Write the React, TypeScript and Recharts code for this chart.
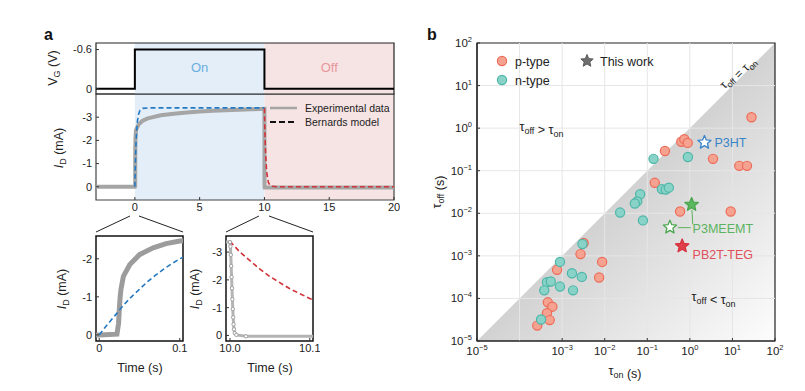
import React from 'react';
import {
  LineChart, Line, XAxis, YAxis, ReferenceArea, ReferenceDot, ReferenceLine,
  ComposedChart, Scatter, Area,
} from 'recharts';

const FONT = '"Liberation Sans", Arial, Helvetica, sans-serif';

// ---- panel a data: [time (s), value] ----
const gatePulse = [[-3, 0], [0, 0], [0, -0.6], [10, -0.6], [10, 0], [20, 0]];

const experimental = [
  [-3, 0], [0, 0], [0.022, -0.02], [0.024, -0.3], [0.025, -0.7], [0.026, -1.0], [0.027, -1.2],
  [0.03, -1.54], [0.038, -1.85], [0.05, -2.11], [0.067, -2.29], [0.083, -2.4], [0.1, -2.47],
  [0.3, -2.7], [0.6, -2.85], [1, -2.95], [2, -3.08], [3, -3.15], [4, -3.2], [5, -3.25],
  [6, -3.28], [7, -3.3], [8, -3.32], [9, -3.34], [10, -3.36],
  [10.0005, -3.2], [10.001, -2.9], [10.0015, -2.5], [10.002, -2.1], [10.0025, -1.7],
  [10.003, -1.3], [10.0035, -0.95], [10.004, -0.65], [10.0045, -0.4], [10.005, -0.22],
  [10.006, -0.08], [10.008, -0.02], [10.02, 0.03], [20, 0.03],
];

const modelOn = [
  [0, 0], [0.01, -0.27], [0.02, -0.52], [0.03, -0.78], [0.04, -1.0], [0.05, -1.2], [0.06, -1.4],
  [0.07, -1.57], [0.08, -1.73], [0.09, -1.87], [0.1, -2.0], [0.15, -2.5], [0.2, -2.85],
  [0.3, -3.15], [0.4, -3.3], [0.6, -3.38], [1, -3.4], [10, -3.4],
];

const modelOff = [
  [10, -3.39], [10.0125, -3.0], [10.025, -2.69], [10.0375, -2.39], [10.05, -2.12], [10.075, -1.68],
  [10.1, -1.33], [10.15, -0.83], [10.2, -0.52], [10.3, -0.2], [10.4, -0.08], [10.6, -0.02],
  [11, 0], [20, 0],
];

const mainTicks = [0, 5, 10, 15, 20];

// ---- panel b data: [tau_on (s), tau_off (s)] ----
const pType = [
  [28, 1.8], [0.63, 0.48], [0.74, 0.55], [0.89, 0.45], [0.26, 0.29], [3.5, 0.19], [14.5, 0.13],
  [22, 0.13], [0.15, 0.052], [0.59, 0.011], [9.1, 0.011], [0.0032, 0.002], [0.0027, 0.0011],
  [0.0087, 0.00072], [0.00076, 0.00047], [0.0074, 0.00031], [0.00046, 0.000081],
  [0.00059, 0.000064], [0.00044, 0.000045], [0.00051, 0.000031], [0.00026, 0.000023],
];
const nType = [
  [0.14, 0.19], [0.9, 0.21], [0.22, 0.037], [0.27, 0.036], [0.32, 0.04], [0.068, 0.028],
  [0.058, 0.019], [0.051, 0.017], [0.023, 0.0104], [0.079, 0.0068], [0.003, 0.0019],
  [0.00089, 0.00072], [0.0017, 0.00039], [0.0029, 0.00032], [0.00044, 0.00024],
  [0.00054, 0.00025], [0.00089, 0.00019], [0.00038, 0.000155], [0.0018, 0.000155],
  [0.00032, 0.000032],
];
const p3ht = [[2.2, 0.46]];
const p3meemtFilled = [[1.1, 0.016]];
const p3meemtOpen = [[0.34, 0.0047]];
const pb2tteg = [[0.66, 0.0017]];
const decades = [1e-5, 1e-4, 1e-3, 1e-2, 1e-1, 1, 10, 100];
const diagonal = [[1e-5, 1e-5], [100, 100]];

const toT = (a: number[][]) => a.map(([t, v]) => ({ t, v }));
const toXY = (a: number[][]) => a.map(([x, y]) => ({ x, y }));

const tickStyle = { fontSize: 11, fill: '#222', fontFamily: FONT };
const BLUE = '#2379c2';
const RED = '#d0323a';
const GREY = '#a5a5a5';

const starPoints = (cx: number, cy: number, R: number) => {
  const pts: string[] = [];
  for (let i = 0; i < 10; i++) {
    const r = i % 2 === 0 ? R : R * 0.45;
    const a = -Math.PI / 2 + (i * Math.PI) / 5;
    pts.push(`${cx + r * Math.cos(a)},${cy + r * Math.sin(a)}`);
  }
  return pts.join(' ');
};

const makeStar = (fill: string, stroke: string) => (p: any) => (
  <polygon points={starPoints(p.cx, p.cy, 7)} fill={fill} stroke={stroke} strokeWidth={1.3} strokeLinejoin="round" />
);

const makeCircle = (fill: string, stroke: string) => (p: any) => (
  <circle cx={p.cx} cy={p.cy} r={4.6} fill={fill} stroke={stroke} strokeWidth={1.2} />
);

const PowTickX = (p: any) => {
  const e = Math.round(Math.log10(p.payload.value));
  const s = e < 0 ? '\u2212' + -e : String(e);
  return (
    <text x={p.x} y={p.y + 11} textAnchor="middle" fontSize={11.5} fill="#222" fontFamily={FONT}>
      <tspan>10</tspan>
      <tspan dy={-5} fontSize={7.5}>{s}</tspan>
    </text>
  );
};

const PowTickY = (p: any) => {
  const e = Math.round(Math.log10(p.payload.value));
  const s = e < 0 ? '\u2212' + -e : String(e);
  return (
    <text x={p.x - 2} y={p.y + 4} textAnchor="end" fontSize={11.5} fill="#222" fontFamily={FONT}>
      <tspan>10</tspan>
      <tspan dy={-5} fontSize={7.5}>{s}</tspan>
    </text>
  );
};

const Tau = ({ sub }: { sub: string }) => (
  <>
    <tspan>τ</tspan>
    <tspan fontSize="0.72em" dy={3}>{sub}</tspan>
    <tspan dy={-3}></tspan>
  </>
);

// inward tick marks, labels outside
const xTickProps = { tickSize: -3, tickMargin: 6, tickLine: { stroke: '#333' }, tick: tickStyle };
const yTickProps = { tickSize: -3, tickMargin: 7, tickLine: { stroke: '#333' }, tick: tickStyle };

function VgPanel() {
  return (
    <LineChart width={400} height={96} margin={{ top: 43, right: 6, bottom: 2, left: 0 }}>
      <XAxis type="number" dataKey="t" domain={[-3, 20]} hide allowDataOverflow />
      <YAxis type="number" domain={[-0.7, 0.08]} reversed ticks={[-0.6, 0]} width={96}
        {...yTickProps} axisLine={false} allowDataOverflow />
      <ReferenceArea x1={0} x2={10} y1={-0.7} y2={0.08} fill="#e3eef8" fillOpacity={1} stroke="none" />
      <ReferenceArea x1={10} x2={20} y1={-0.7} y2={0.08} fill="#f6e4e4" fillOpacity={1} stroke="none" />
      <ReferenceDot x={5} y={-0.33} r={0} shape={(p: any) => (
        <text x={p.cx} y={p.cy + 5} textAnchor="middle" fontSize={13} fill="#6aaee0" fontFamily={FONT}>On</text>
      )} />
      <ReferenceDot x={15} y={-0.33} r={0} shape={(p: any) => (
        <text x={p.cx} y={p.cy + 5} textAnchor="middle" fontSize={13} fill="#e8959b" fontFamily={FONT}>Off</text>
      )} />
      <Line data={toT(gatePulse)} dataKey="v" stroke="#000" strokeWidth={2} dot={false} isAnimationActive={false} />
      <ReferenceArea x1={-3} x2={20} y1={-0.7} y2={0.08} fill="none" stroke="#222" strokeWidth={1.2} />
    </LineChart>
  );
}

function IdPanel() {
  return (
    <LineChart width={400} height={225} margin={{ top: 94, right: 6, bottom: 0, left: 0 }}>
      <XAxis type="number" dataKey="t" domain={[-3, 20]} ticks={mainTicks} height={25}
        {...xTickProps} axisLine={false} allowDataOverflow />
      <YAxis type="number" domain={[-4, 0.57]} reversed ticks={[-3, -2, -1, 0]} width={96}
        {...yTickProps} axisLine={false} allowDataOverflow />
      <ReferenceArea x1={0} x2={10} y1={-4} y2={0.57} fill="#e3eef8" fillOpacity={1} stroke="none" />
      <ReferenceArea x1={10} x2={20} y1={-4} y2={0.57} fill="#f6e4e4" fillOpacity={1} stroke="none" />
      <Line data={toT(experimental)} dataKey="v" stroke={GREY} strokeWidth={4} dot={false} isAnimationActive={false} />
      <Line data={toT(modelOn)} dataKey="v" stroke={BLUE} strokeWidth={1.6} strokeDasharray="5 3" dot={false} isAnimationActive={false} />
      <Line data={toT(modelOff)} dataKey="v" stroke={RED} strokeWidth={1.6} strokeDasharray="5 3" dot={false} isAnimationActive={false} />
      <ReferenceArea x1={-3} x2={20} y1={-4} y2={0.57} fill="none" stroke="#444" strokeWidth={1.2} />
    </LineChart>
  );
}

function InsetOn() {
  return (
    <LineChart width={190} height={191} margin={{ top: 36, right: 7, bottom: 25, left: 0 }}>
      <XAxis type="number" dataKey="t" domain={[-0.004, 0.104]} ticks={[0, 0.1]} height={25}
        {...xTickProps} axisLine={false} allowDataOverflow />
      <YAxis type="number" domain={[-2.6, 0.16]} reversed ticks={[-2, -1, 0]} width={96}
        {...yTickProps} axisLine={false} allowDataOverflow />
      <Line data={toT(experimental)} dataKey="v" stroke="#9c9c9c" strokeWidth={5} dot={false} isAnimationActive={false} />
      <Line data={toT(modelOn)} dataKey="v" stroke={BLUE} strokeWidth={1.6} strokeDasharray="5 3" dot={false} isAnimationActive={false} />
      <ReferenceArea x1={-0.004} x2={0.104} y1={-2.6} y2={0.16} fill="none" stroke="#111" strokeWidth={1.5} />
    </LineChart>
  );
}

function InsetOff() {
  return (
    <LineChart width={190} height={191} margin={{ top: 36, right: 7, bottom: 25, left: 0 }}>
      <XAxis type="number" dataKey="t" domain={[9.995, 10.104]} ticks={[10, 10.1]} height={25}
        tickFormatter={(v: number) => v.toFixed(1)}
        {...xTickProps} axisLine={false} allowDataOverflow />
      <YAxis type="number" domain={[-3.58, 0.2]} reversed ticks={[-3, -2, -1, 0]} width={96}
        {...yTickProps} axisLine={false} allowDataOverflow />
      <Line data={toT(experimental)} dataKey="v" stroke="#b4b4b4" strokeWidth={3}
        dot={{ r: 1.7, fill: '#fff', stroke: '#a0a0a0', strokeWidth: 1 }} isAnimationActive={false} />
      <Line data={toT(modelOff)} dataKey="v" stroke={RED} strokeWidth={1.6} strokeDasharray="5 3" dot={false} isAnimationActive={false} />
      <ReferenceArea x1={9.995} x2={10.104} y1={-3.58} y2={0.2} fill="none" stroke="#111" strokeWidth={1.5} />
    </LineChart>
  );
}

function TauPanel() {
  const txt = (content: React.ReactNode, dx = 0, dy = 0, color = '#222', size = 12.5, rotate = 0) => (p: any) => (
    <text x={p.cx + dx} y={p.cy + dy} fontSize={size} fill={color} fontFamily={FONT}
      transform={rotate ? `rotate(${rotate},${p.cx},${p.cy})` : undefined}
      textAnchor={rotate ? 'middle' : 'start'}>
      {content}
    </text>
  );
  return (
    <ComposedChart width={385} height={391} margin={{ top: 43, right: 30, bottom: 20, left: 7 }}>
      <defs>
        <linearGradient id="lowerTri" x1="0" y1="0" x2="1" y2="1">
          <stop offset="0.5" stopColor="#d2d2d2" />
          <stop offset="1" stopColor="#fdfdfd" />
        </linearGradient>
      </defs>
      <XAxis type="number" dataKey="x" scale="log" domain={[1e-5, 100]} ticks={decades} height={30}
        tickSize={-3} tickMargin={6} tickLine={{ stroke: '#333' }} axisLine={{ stroke: '#222', strokeWidth: 1.2 }}
        tick={<PowTickX />} allowDataOverflow />
      <YAxis type="number" dataKey="y" scale="log" domain={[1e-5, 100]} ticks={decades} width={50}
        tickSize={-3} tickMargin={6} tickLine={{ stroke: '#333' }} axisLine={{ stroke: '#222', strokeWidth: 1.2 }}
        tick={<PowTickY />} allowDataOverflow />
      <Area data={toXY(diagonal)} dataKey="y" type="linear" baseValue={1e-5} fill="url(#lowerTri)"
        fillOpacity={1} stroke="none" isAnimationActive={false} />
      {decades.slice(1, -1).map((d) => (
        <ReferenceLine key={'vx' + d} x={d} stroke="#e6e6e6" strokeWidth={1} />
      ))}
      {decades.slice(1, -1).map((d) => (
        <ReferenceLine key={'hy' + d} y={d} stroke="#e6e6e6" strokeWidth={1} />
      ))}
      <ReferenceLine segment={[{ x: 0.52, y: 0.0046 }, { x: 1.05, y: 0.0046 }]} stroke="#5ab35e" strokeWidth={1} />
      <ReferenceLine segment={[{ x: 1.12, y: 0.012 }, { x: 1.17, y: 0.0055 }]} stroke="#5ab35e" strokeWidth={1} />
      <Scatter data={toXY(pType)} dataKey="y" shape={makeCircle('#f6a291', '#ec6c58')} isAnimationActive={false} />
      <Scatter data={toXY(nType)} dataKey="y" shape={makeCircle('#88d2c7', '#4db6a8')} isAnimationActive={false} />
      <Scatter data={toXY(p3ht)} dataKey="y" shape={makeStar('#ffffff', '#3a84c8')} isAnimationActive={false} />
      <Scatter data={toXY(p3meemtFilled)} dataKey="y" shape={makeStar('#5cb85f', '#4aa64e')} isAnimationActive={false} />
      <Scatter data={toXY(p3meemtOpen)} dataKey="y" shape={makeStar('#ffffff', '#4aa64e')} isAnimationActive={false} />
      <Scatter data={toXY(pb2tteg)} dataKey="y" shape={makeStar('#e0404a', '#d53540')} isAnimationActive={false} />
      <ReferenceDot x={2.2} y={0.46} r={0} shape={txt('P3HT', 10, 5, '#3a84c8', 12.5)} />
      <ReferenceDot x={1.1} y={0.0045} r={0} shape={txt('P3MEEMT', 1, 5, '#5ab35e', 12.5)} />
      <ReferenceDot x={1.1} y={0.0011} r={0} shape={txt('PB2T-TEG', 1, 5, '#e0505a', 12.5)} />
      <ReferenceDot x={1e-4} y={1} r={0} shape={txt(<><Tau sub="off" /> &gt; <Tau sub="on" /></>, 0, 3)} />
      <ReferenceDot x={1.1} y={1e-4} r={0} shape={txt(<><Tau sub="off" /> &lt; <Tau sub="on" /></>, 0, 3)} />
      <ReferenceDot x={12.6} y={21} r={0} shape={txt(<><Tau sub="off" /> = <Tau sub="on" /></>, 0, 4, '#222', 12, -45)} />
      <ReferenceArea x1={1e-5} x2={100} y1={1e-5} y2={100} fill="none" stroke="#222" strokeWidth={1.2} />
    </ComposedChart>
  );
}

export default function App() {
  const abs = (left: number, top: number): React.CSSProperties => ({ position: 'absolute', left, top });
  return (
    <div style={{ position: 'absolute', left: 0, top: 0, width: 805, height: 391, background: '#fff', overflow: 'hidden', fontFamily: FONT }}>
      <div style={abs(0, 0)}><IdPanel /></div>
      <div style={abs(0, 0)}><VgPanel /></div>
      <div style={abs(0, 200)}><InsetOn /></div>
      <div style={abs(130, 200)}><InsetOff /></div>
      <div style={abs(420, 0)}><TauPanel /></div>
      <svg width={805} height={391} style={{ position: 'absolute', left: 0, top: 0, pointerEvents: 'none' }} fontFamily={FONT}>
        <text x={44} y={40} fontSize={16} fontWeight="bold" fill="#111">a</text>
        <text x={427} y={40} fontSize={16} fontWeight="bold" fill="#111">b</text>

        {/* axis titles, panel a */}
        <text transform="translate(57,68) rotate(-90)" textAnchor="middle" fontSize={12.5} fill="#222">
          <tspan>V</tspan><tspan fontSize={9} dy={3}>G</tspan><tspan dy={-3}> (V)</tspan>
        </text>
        <text transform="translate(63,148) rotate(-90)" textAnchor="middle" fontSize={12.5} fill="#222">
          <tspan fontStyle="italic">I</tspan><tspan fontSize={9} dy={3}>D</tspan><tspan dy={-3}> (mA)</tspan>
        </text>
        <text transform="translate(66,289) rotate(-90)" textAnchor="middle" fontSize={12.5} fill="#222">
          <tspan fontStyle="italic">I</tspan><tspan fontSize={9} dy={3}>D</tspan><tspan dy={-3}> (mA)</tspan>
        </text>
        <text transform="translate(199,289) rotate(-90)" textAnchor="middle" fontSize={12.5} fill="#222">
          <tspan fontStyle="italic">I</tspan><tspan fontSize={9} dy={3}>D</tspan><tspan dy={-3}> (mA)</tspan>
        </text>
        <text x={140} y={372} textAnchor="middle" fontSize={12.5} fill="#222">Time (s)</text>
        <text x={270} y={372} textAnchor="middle" fontSize={12.5} fill="#222">Time (s)</text>

        {/* zoom connectors */}
        <g stroke="#222" strokeWidth={1}>
          <line x1={130} y1={216} x2={96} y2={232} />
          <line x1={139} y1={216} x2={183} y2={232} />
          <line x1={259} y1={216} x2={226} y2={232} />
          <line x1={269} y1={216} x2={313} y2={232} />
        </g>

        {/* legend, panel a */}
        <line x1={270} y1={108} x2={297} y2={108} stroke={GREY} strokeWidth={2.5} />
        <text x={305} y={112} fontSize={10.5} fill="#222">Experimental data</text>
        <line x1={270} y1={122} x2={297} y2={122} stroke="#111" strokeWidth={2} strokeDasharray="6 3" />
        <text x={305} y={126} fontSize={10.5} fill="#222">Bernards model</text>

        {/* axis titles, panel b */}
        <text x={625} y={375} textAnchor="middle" fontSize={12.5} fill="#222"><Tau sub="on" /> (s)</text>
        <text transform="translate(441,192) rotate(-90)" textAnchor="middle" fontSize={12.5} fill="#222"><Tau sub="off" /> (s)</text>

        {/* legend, panel b */}
        <circle cx={502} cy={61} r={4.6} fill="#f6a291" stroke="#ec6c58" strokeWidth={1.2} />
        <text x={515} y={66} fontSize={12.5} fill="#222">p-type</text>
        <circle cx={502} cy={80} r={4.6} fill="#88d2c7" stroke="#4db6a8" strokeWidth={1.2} />
        <text x={515} y={85} fontSize={12.5} fill="#222">n-type</text>
        <polygon points={starPoints(587, 61, 6.5)} fill="#6e6e6e" stroke="#5a5a5a" strokeWidth={1} />
        <text x={600} y={66} fontSize={12.5} fill="#222">This work</text>
      </svg>
    </div>
  );
}
